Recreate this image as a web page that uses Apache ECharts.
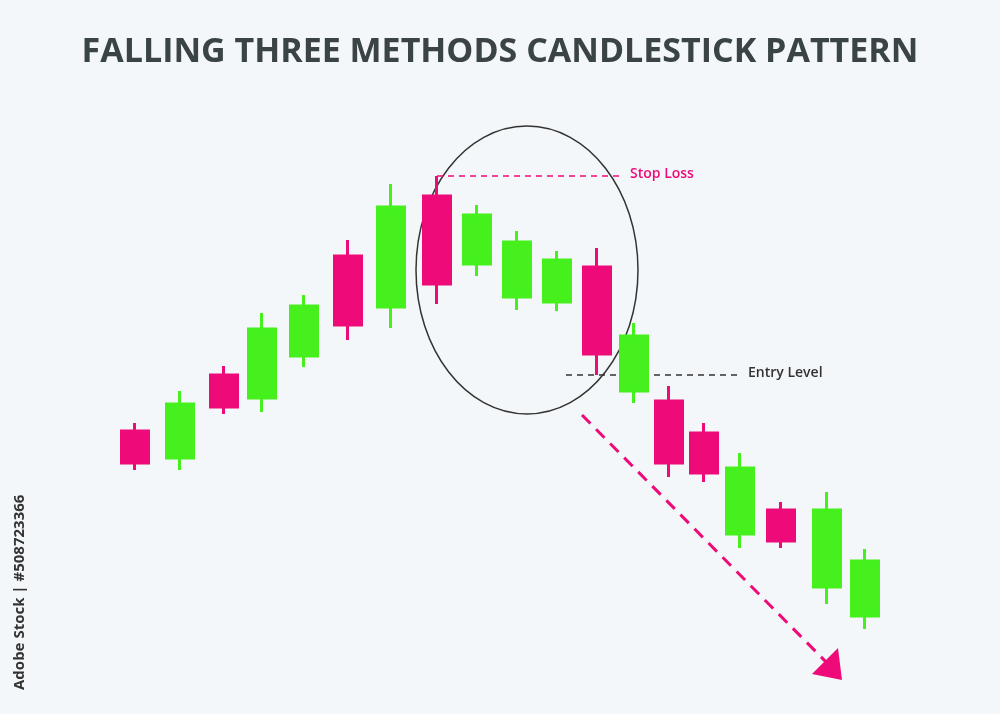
<!DOCTYPE html>
<html><head><meta charset="utf-8">
<script src="https://cdn.jsdelivr.net/npm/echarts@6/dist/echarts.min.js"></script>
<style>html,body{margin:0;background:#f4f7f9}#c{width:1000px;height:714px}</style>
</head><body><div id="c"></div>
<script>
var PINK = '#ee0a78', GREEN = '#45f01c';
// horizontal slot of each candle (session position, unevenly spaced in the picture)
var slots = [135, 180, 224, 262, 304, 348, 391, 437, 477, 517, 557, 597, 634, 669, 704, 740, 781, 827, 865];
// [open, close, low, high] in chart units (bottom = 0, top = 714)
var candles = [
  [283, 251, 244, 291],
  [256, 310, 244, 323],
  [339, 307, 300, 348],
  [316, 385, 302, 401],
  [358, 408, 347, 419],
  [458, 389, 374, 474],
  [407, 507, 386, 530],
  [518, 430, 410, 538],
  [450, 499, 438, 509],
  [417, 472, 404, 483],
  [412, 454, 403, 463],
  [447, 360, 339, 466],
  [323, 378, 311, 391],
  [313, 251, 237, 328],
  [281, 241, 232, 291],
  [180, 246, 166, 261],
  [204, 173, 166, 212],
  [127, 204, 110, 222],
  [98, 153, 85, 165]
];
var colors = ['p','g','p','g','g','p','g','p','g','g','g','p','g','p','p','g','p','g','g'];

var chart = echarts.init(document.getElementById('c'));
chart.setOption({
  backgroundColor: '#f4f7f9',
  title: {text: 'FALLING THREE METHODS CANDLESTICK PATTERN', left: 'center', top: 30,
    textStyle: {fontFamily: 'Open Sans', fontWeight: 'bold', fontSize: 34, color: '#3a4446'}},
  grid: {left: 0, right: 0, top: 0, bottom: 0},
  xAxis: {type: 'value', min: 0, max: 1000, show: false},
  yAxis: {type: 'value', min: 0, max: 714, show: false},
  series: [{
    type: 'candlestick',
    barWidth: 27,
    encode: {x: 0, y: [1, 2, 3, 4]},
    data: candles.map(function (d, i) {
      var c = colors[i] === 'p' ? PINK : GREEN;
      return {value: [slots[i]].concat(d), itemStyle: {color: c, color0: c, borderColor: c, borderColor0: c, borderWidth: 3}};
    })
  }],
  graphic: [
    {type: 'ellipse', shape: {cx: 527, cy: 270, rx: 111, ry: 144},
      style: {fill: 'none', stroke: '#333', lineWidth: 1.5}},
    {type: 'line', shape: {x1: 437, y1: 176, x2: 623, y2: 176},
      style: {stroke: PINK, lineWidth: 1.5, lineDash: [6, 5]}},
    {type: 'text', x: 630, y: 167, style: {text: 'Stop Loss', fill: PINK, font: '600 14px "Open Sans"'}},
    {type: 'line', shape: {x1: 566, y1: 375, x2: 740, y2: 375},
      style: {stroke: '#333', lineWidth: 1.5, lineDash: [6, 5]}},
    {type: 'text', x: 748, y: 366, style: {text: 'Entry Level', fill: '#333', font: '600 14px "Open Sans"'}},
    {type: 'line', shape: {x1: 582, y1: 415, x2: 832, y2: 668},
      style: {stroke: PINK, lineWidth: 3, lineDash: [12, 8]}},
    {type: 'polygon', shape: {points: [[842, 680], [812, 674], [838, 648]]}, style: {fill: PINK}},
    {type: 'text', x: 12, y: 690, rotation: Math.PI / 2,
      style: {text: 'Adobe Stock | #508723366', fill: '#333', font: 'bold 15px "Open Sans"'}}
  ]
});
</script></body></html>
